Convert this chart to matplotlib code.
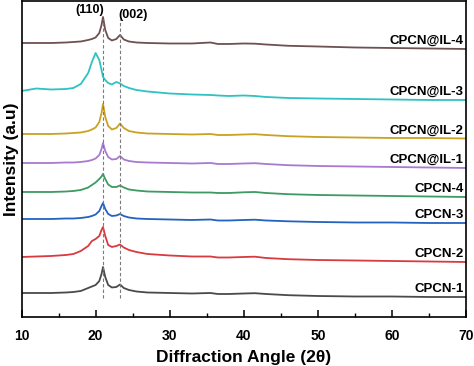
import matplotlib
matplotlib.use("Agg")
import matplotlib.pyplot as plt
from matplotlib.ticker import MultipleLocator

plt.rcParams['font.family'] = ['Liberation Sans', 'DejaVu Sans']
plt.rcParams['font.weight'] = 'bold'

# 2-theta sample points
two_theta = [10, 12, 14, 16, 17, 18, 19, 19.5, 20, 20.5, 20.8, 21, 21.3, 21.7,
             22.2, 22.8, 23.3, 23.8, 24.5, 25.5, 27, 30, 33, 35.5, 36.5, 38,
             40, 41.5, 43, 46, 50, 55, 60, 65, 70]

# stacked intensities (a.u.)
cpcn_1 = [24, 24, 24, 24.5, 25, 26, 29, 30.5, 32, 36, 43, 50, 40, 32, 29.5, 30,
          32.5, 29, 27, 25.5, 24.5, 24, 23.5, 24, 23, 23, 23.5, 23.8, 23, 21.8,
          21, 20.5, 20.5, 20, 20]
cpcn_2 = [60, 60.5, 61, 62, 63, 66, 71, 76, 78, 81, 87, 90, 81, 72, 70, 71,
          72.5, 69.5, 67, 65, 63, 61.5, 60.5, 60.5, 59.5, 59.5, 60, 60.3, 59,
          57.8, 57, 56.5, 56, 55.5, 55]
cpcn_3 = [98, 98, 98, 98.5, 98.5, 99, 100, 101, 102.5, 106, 111, 114, 108, 103,
          101, 101.5, 103, 101, 99.5, 98.5, 98, 97.5, 97, 97.5, 96.5, 96.5, 97,
          97.3, 96.5, 95.7, 95, 94.5, 94.5, 94, 94]
cpcn_4 = [125, 125, 125, 125.5, 126, 127, 129.5, 132, 134.5, 138, 140.5, 143,
          138, 132.5, 130, 130, 131.5, 129.5, 127.5, 126.5, 125.5, 125, 124.5,
          124.5, 124, 124, 124.7, 125, 124, 122.8, 122, 121.5, 121, 120.5, 120]
il_1 = [154, 154, 154, 154.5, 154.5, 155, 156, 157, 158.5, 162, 168, 174, 166,
        160, 157.5, 158, 161, 157.5, 156, 155, 154.5, 154, 153.5, 154, 153, 153,
        153.5, 153.8, 153, 151.8, 151, 150.5, 150, 149.5, 149]
il_2 = [183, 183, 183, 183.5, 184, 184.5, 186, 187.5, 189.5, 195, 204, 213, 200,
        191, 187.5, 189, 193.5, 189, 186, 184.5, 183.5, 183, 182.5, 183, 182, 182,
        182.5, 182.8, 182, 180.8, 180, 179.5, 179, 179, 178.5]
il_3 = [226, 228.5, 227.5, 228, 229, 233, 244, 255, 264, 257, 247, 240, 237, 234,
        232.5, 235, 233.5, 231, 229, 227, 225.5, 223.5, 222.5, 222, 221.5, 221,
        221.5, 221, 220, 219, 218.5, 218, 217.5, 217, 217]
il_4 = [274, 274, 274, 274.5, 275, 275.5, 277, 278, 279.5, 284, 292, 300, 287, 279,
        276.5, 278, 282, 277.5, 275.5, 274.5, 274, 273.5, 273.5, 274.5, 273, 273,
        273.5, 273.3, 272.5, 271.2, 270.5, 269.5, 269, 268.5, 268]

names = ['CPCN-1', 'CPCN-2', 'CPCN-3', 'CPCN-4',
         'CPCN@IL-1', 'CPCN@IL-2', 'CPCN@IL-3', 'CPCN@IL-4']
series = [cpcn_1, cpcn_2, cpcn_3, cpcn_4, il_1, il_2, il_3, il_4]
colors = ['#4a4a4a', '#d83a40', '#2262c0', '#3c9a62',
          '#a87ad0', '#c9a222', '#2ec2c2', '#6e5052']

peaks = [21.0, 23.35]
peak_labels = ['(110)', '(002)']
peak_label_x = [19.25, 25.05]

fig = plt.figure(figsize=(4.74, 3.66), dpi=100)
ax = fig.add_axes([0.0454, 0.1339, 0.9378, 0.8634])

for vals, name, c in zip(series, names, colors):
    ax.plot(two_theta, vals, color=c, lw=1.3)
    ax.text(69.7, vals[-1] + 8, name, ha='right', va='center',
            fontsize=9.5, fontweight='bold')

for p in peaks:
    ax.vlines(p, 19, 298, colors='#7a7a7a', linestyles=(0, (3, 2)), lw=0.8)
ax.text(peak_label_x[0], 307, peak_labels[0], ha='center', va='center',
        fontsize=9, fontweight='bold')
ax.text(peak_label_x[1], 302, peak_labels[1], ha='center', va='center',
        fontsize=9, fontweight='bold')

ax.set_xlim(10, 70)
ax.set_ylim(0, 316)
ax.xaxis.set_major_locator(MultipleLocator(10))
ax.xaxis.set_minor_locator(MultipleLocator(5))
ax.set_yticks([])
ax.tick_params(axis='x', which='major', direction='in', length=5, width=1.1,
               labelsize=10, pad=9)
ax.tick_params(axis='x', which='minor', direction='in', length=3, width=1.0)
for s in ax.spines.values():
    s.set_linewidth(1.2)

ax.set_xlabel('Diffraction Angle (2θ)', fontsize=12.5, fontweight='bold', labelpad=5)
ax.set_ylabel('Intensity (a.u)', fontsize=12.5, fontweight='bold', labelpad=2)

fig.savefig('out.png', dpi=100)
